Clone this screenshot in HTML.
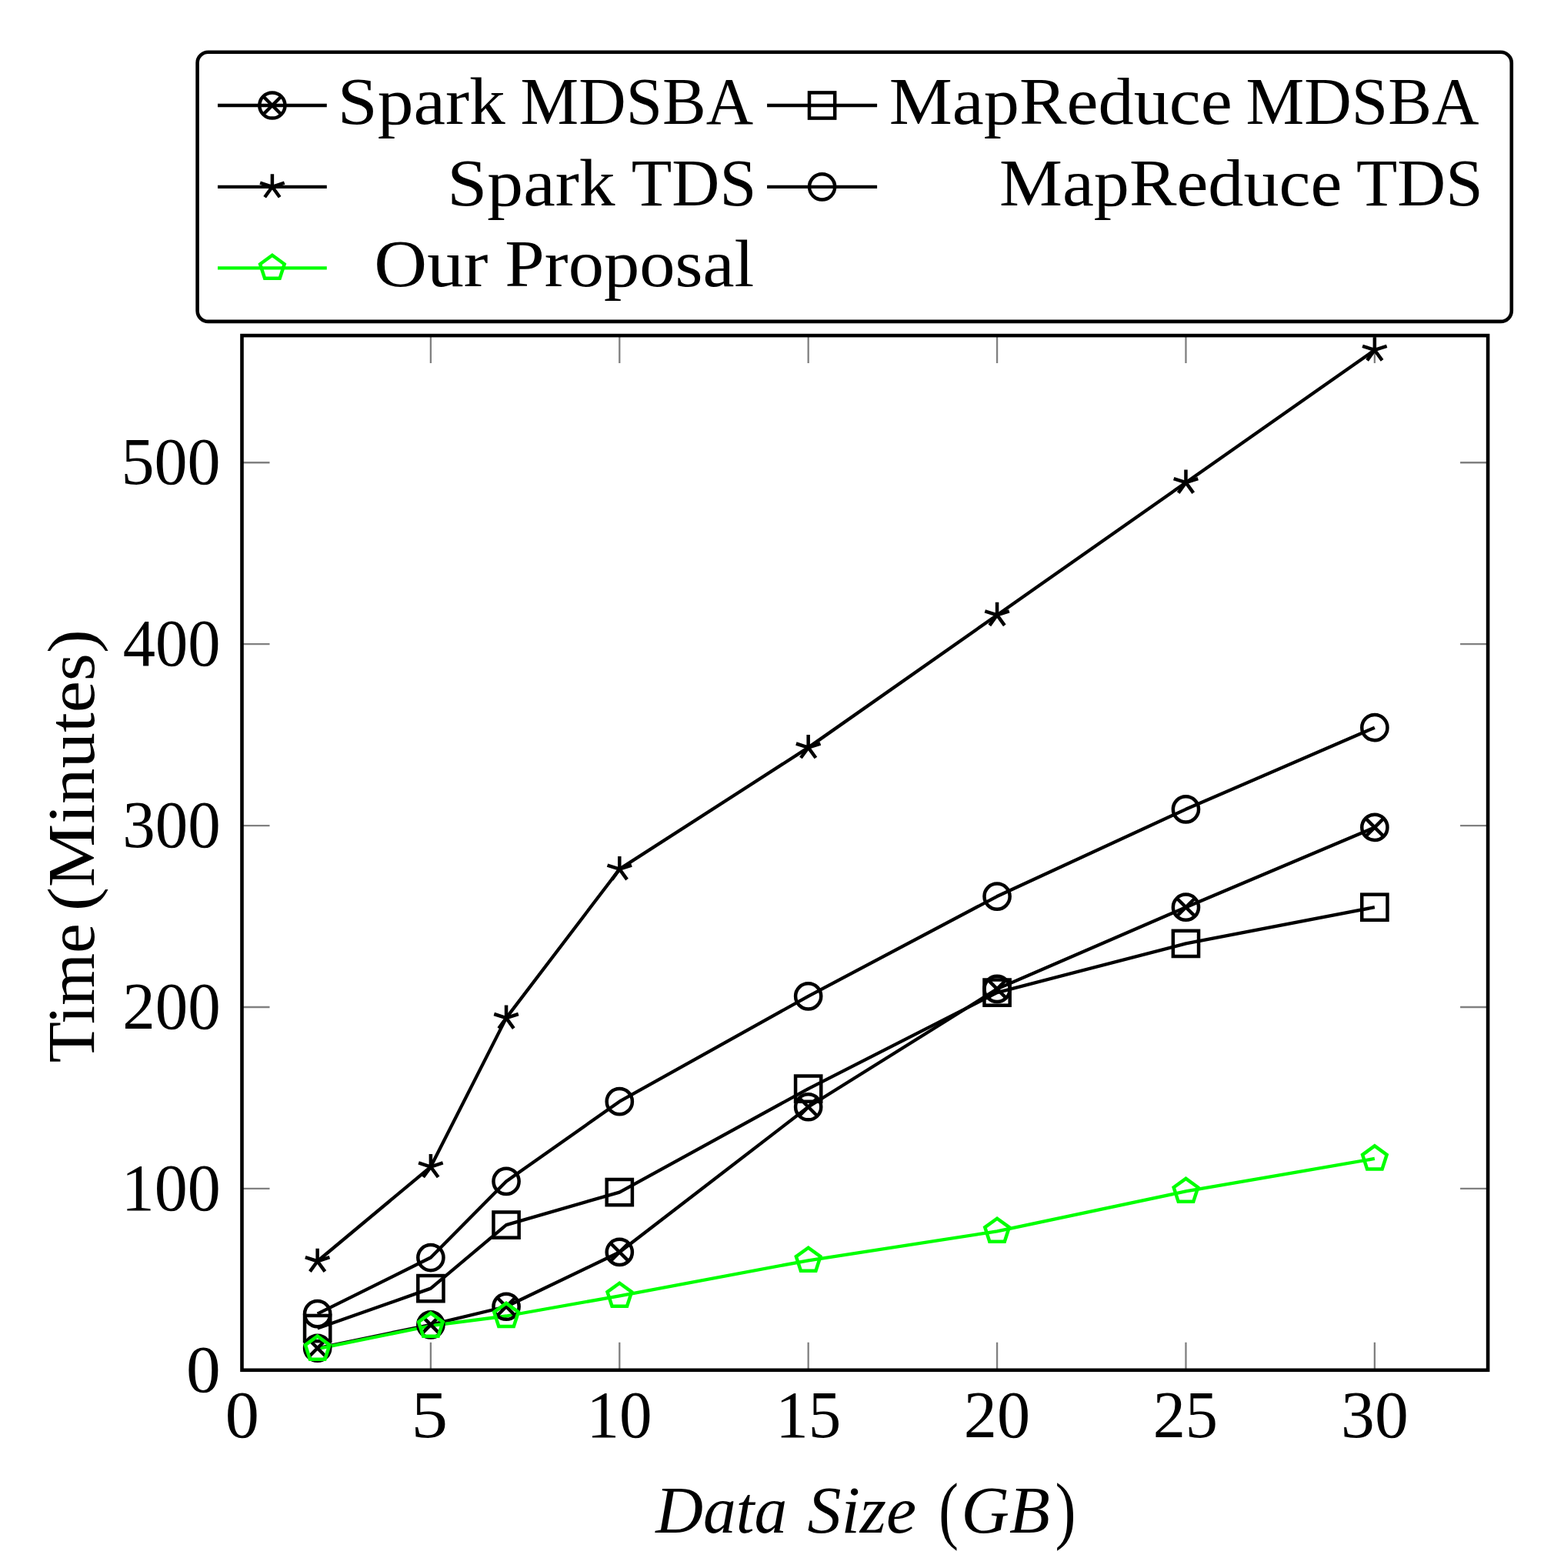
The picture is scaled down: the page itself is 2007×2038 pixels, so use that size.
<!DOCTYPE html>
<html lang="en"><head><meta charset="utf-8"><title>Time vs Data Size</title>
<style>html,body{margin:0;padding:0;background:#fff}body{width:2007px;height:2038px;overflow:hidden}svg{display:block}text{font-family:"Liberation Serif", serif;font-size:87px;fill:#000}.it{font-style:italic}</style></head><body>
<svg width="2007" height="2038" viewBox="0 0 2007 2038">
<rect width="2007" height="2038" fill="#fff"/>
<g stroke="#808080" stroke-width="2.3" fill="none">
<path d="M314.5 1780.8v-36 M314.5 436.1v36"/>
<path d="M559.89 1780.8v-36 M559.89 436.1v36"/>
<path d="M805.29 1780.8v-36 M805.29 436.1v36"/>
<path d="M1050.68 1780.8v-36 M1050.68 436.1v36"/>
<path d="M1296.08 1780.8v-36 M1296.08 436.1v36"/>
<path d="M1541.47 1780.8v-36 M1541.47 436.1v36"/>
<path d="M1786.86 1780.8v-36 M1786.86 436.1v36"/>
<path d="M314.5 1780.8h36 M1934.1 1780.8h-36"/>
<path d="M314.5 1544.89h36 M1934.1 1544.89h-36"/>
<path d="M314.5 1308.98h36 M1934.1 1308.98h-36"/>
<path d="M314.5 1073.06h36 M1934.1 1073.06h-36"/>
<path d="M314.5 837.15h36 M1934.1 837.15h-36"/>
<path d="M314.5 601.24h36 M1934.1 601.24h-36"/>
</g>
<rect x="314.5" y="436.1" width="1619.6" height="1344.7" fill="none" stroke="#000" stroke-width="4.6"/>
<polyline points="412.66,1752.25 559.89,1721.82 658.05,1698.23 805.29,1627.46 1050.68,1438.73 1296.08,1285.38 1541.47,1179.22 1786.86,1075.42" fill="none" stroke="#000" stroke-width="4.3" stroke-linejoin="round"/>
<polyline points="412.66,1726.54 559.89,1674.64 658.05,1592.07 805.29,1549.61 1050.68,1415.14 1296.08,1290.1 1541.47,1226.41 1786.86,1179.22" fill="none" stroke="#000" stroke-width="4.3" stroke-linejoin="round"/>
<polyline points="412.66,1639.25 559.89,1516.58 658.05,1323.13 805.29,1129.68 1050.68,971.62 1296.08,799.4 1541.47,627.19 1786.86,454.97" fill="none" stroke="#000" stroke-width="4.3" stroke-linejoin="round"/>
<polyline points="412.66,1707.67 559.89,1634.53 658.05,1535.45 805.29,1431.65 1050.68,1294.82 1296.08,1165.07 1541.47,1051.83 1786.86,945.67" fill="none" stroke="#000" stroke-width="4.3" stroke-linejoin="round"/>
<polyline points="412.66,1753.2 559.89,1723.24 658.05,1710.5 805.29,1684.31 1050.68,1638.31 1296.08,1600.33 1541.47,1548.43 1786.86,1505.96" fill="none" stroke="#0f0" stroke-width="4.3" stroke-linejoin="round"/>
<g>
<circle cx="412.66" cy="1752.25" r="16.6" fill="none" stroke="#000" stroke-width="4.5"/><path d="M400.92 1740.52L424.4 1763.99M400.92 1763.99L424.4 1740.52" fill="none" stroke="#000" stroke-width="4.5"/>
<circle cx="559.89" cy="1721.82" r="16.6" fill="none" stroke="#000" stroke-width="4.5"/><path d="M548.16 1710.08L571.63 1733.56M548.16 1733.56L571.63 1710.08" fill="none" stroke="#000" stroke-width="4.5"/>
<circle cx="658.05" cy="1698.23" r="16.6" fill="none" stroke="#000" stroke-width="4.5"/><path d="M646.31 1686.49L669.79 1709.97M646.31 1709.97L669.79 1686.49" fill="none" stroke="#000" stroke-width="4.5"/>
<circle cx="805.29" cy="1627.46" r="16.6" fill="none" stroke="#000" stroke-width="4.5"/><path d="M793.55 1615.72L817.03 1639.19M793.55 1639.19L817.03 1615.72" fill="none" stroke="#000" stroke-width="4.5"/>
<circle cx="1050.68" cy="1438.73" r="16.6" fill="none" stroke="#000" stroke-width="4.5"/><path d="M1038.94 1426.99L1062.42 1450.47M1038.94 1450.47L1062.42 1426.99" fill="none" stroke="#000" stroke-width="4.5"/>
<circle cx="1296.08" cy="1285.38" r="16.6" fill="none" stroke="#000" stroke-width="4.5"/><path d="M1284.34 1273.65L1307.81 1297.12M1284.34 1297.12L1307.81 1273.65" fill="none" stroke="#000" stroke-width="4.5"/>
<circle cx="1541.47" cy="1179.22" r="16.6" fill="none" stroke="#000" stroke-width="4.5"/><path d="M1529.73 1167.49L1553.21 1190.96M1529.73 1190.96L1553.21 1167.49" fill="none" stroke="#000" stroke-width="4.5"/>
<circle cx="1786.86" cy="1075.42" r="16.6" fill="none" stroke="#000" stroke-width="4.5"/><path d="M1775.13 1063.68L1798.6 1087.16M1775.13 1087.16L1798.6 1063.68" fill="none" stroke="#000" stroke-width="4.5"/>
</g>
<g>
<rect x="396.06" y="1709.94" width="33.2" height="33.2" fill="none" stroke="#000" stroke-width="4.5"/>
<rect x="543.29" y="1658.04" width="33.2" height="33.2" fill="none" stroke="#000" stroke-width="4.5"/>
<rect x="641.45" y="1575.47" width="33.2" height="33.2" fill="none" stroke="#000" stroke-width="4.5"/>
<rect x="788.69" y="1533.01" width="33.2" height="33.2" fill="none" stroke="#000" stroke-width="4.5"/>
<rect x="1034.08" y="1398.54" width="33.2" height="33.2" fill="none" stroke="#000" stroke-width="4.5"/>
<rect x="1279.48" y="1273.5" width="33.2" height="33.2" fill="none" stroke="#000" stroke-width="4.5"/>
<rect x="1524.87" y="1209.81" width="33.2" height="33.2" fill="none" stroke="#000" stroke-width="4.5"/>
<rect x="1770.26" y="1162.62" width="33.2" height="33.2" fill="none" stroke="#000" stroke-width="4.5"/>
</g>
<g>
<path d="M412.66 1639.25L412.66 1622.65M412.66 1639.25L396.87 1634.12M412.66 1639.25L402.9 1652.68M412.66 1639.25L422.41 1652.68M412.66 1639.25L428.45 1634.12" fill="none" stroke="#000" stroke-width="4.5"/>
<path d="M559.89 1516.58L559.89 1499.98M559.89 1516.58L544.11 1511.45M559.89 1516.58L550.14 1530.01M559.89 1516.58L569.65 1530.01M559.89 1516.58L575.68 1511.45" fill="none" stroke="#000" stroke-width="4.5"/>
<path d="M658.05 1323.13L658.05 1306.53M658.05 1323.13L642.26 1318M658.05 1323.13L648.29 1336.56M658.05 1323.13L667.81 1336.56M658.05 1323.13L673.84 1318" fill="none" stroke="#000" stroke-width="4.5"/>
<path d="M805.29 1129.68L805.29 1113.08M805.29 1129.68L789.5 1124.55M805.29 1129.68L795.53 1143.11M805.29 1129.68L815.05 1143.11M805.29 1129.68L821.08 1124.55" fill="none" stroke="#000" stroke-width="4.5"/>
<path d="M1050.68 971.62L1050.68 955.02M1050.68 971.62L1034.89 966.49M1050.68 971.62L1040.92 985.05M1050.68 971.62L1060.44 985.05M1050.68 971.62L1066.47 966.49" fill="none" stroke="#000" stroke-width="4.5"/>
<path d="M1296.08 799.4L1296.08 782.8M1296.08 799.4L1280.29 794.28M1296.08 799.4L1286.32 812.83M1296.08 799.4L1305.83 812.83M1296.08 799.4L1311.86 794.28" fill="none" stroke="#000" stroke-width="4.5"/>
<path d="M1541.47 627.19L1541.47 610.59M1541.47 627.19L1525.68 622.06M1541.47 627.19L1531.71 640.62M1541.47 627.19L1551.23 640.62M1541.47 627.19L1557.26 622.06" fill="none" stroke="#000" stroke-width="4.5"/>
<path d="M1786.86 454.97L1786.86 438.37M1786.86 454.97L1771.08 449.84M1786.86 454.97L1777.11 468.4M1786.86 454.97L1796.62 468.4M1786.86 454.97L1802.65 449.84" fill="none" stroke="#000" stroke-width="4.5"/>
</g>
<g>
<circle cx="412.66" cy="1707.67" r="16.6" fill="none" stroke="#000" stroke-width="4.5"/>
<circle cx="559.89" cy="1634.53" r="16.6" fill="none" stroke="#000" stroke-width="4.5"/>
<circle cx="658.05" cy="1535.45" r="16.6" fill="none" stroke="#000" stroke-width="4.5"/>
<circle cx="805.29" cy="1431.65" r="16.6" fill="none" stroke="#000" stroke-width="4.5"/>
<circle cx="1050.68" cy="1294.82" r="16.6" fill="none" stroke="#000" stroke-width="4.5"/>
<circle cx="1296.08" cy="1165.07" r="16.6" fill="none" stroke="#000" stroke-width="4.5"/>
<circle cx="1541.47" cy="1051.83" r="16.6" fill="none" stroke="#000" stroke-width="4.5"/>
<circle cx="1786.86" cy="945.67" r="16.6" fill="none" stroke="#000" stroke-width="4.5"/>
</g>
<g>
<polygon points="412.66,1736.6 396.87,1748.07 402.9,1766.63 422.41,1766.63 428.45,1748.07" fill="none" stroke="#0f0" stroke-width="4.5" stroke-linejoin="miter"/>
<polygon points="559.89,1706.64 544.11,1718.11 550.14,1736.67 569.65,1736.67 575.68,1718.11" fill="none" stroke="#0f0" stroke-width="4.5" stroke-linejoin="miter"/>
<polygon points="658.05,1693.9 642.26,1705.37 648.29,1723.93 667.81,1723.93 673.84,1705.37" fill="none" stroke="#0f0" stroke-width="4.5" stroke-linejoin="miter"/>
<polygon points="805.29,1667.71 789.5,1679.18 795.53,1697.74 815.05,1697.74 821.08,1679.18" fill="none" stroke="#0f0" stroke-width="4.5" stroke-linejoin="miter"/>
<polygon points="1050.68,1621.71 1034.89,1633.18 1040.92,1651.74 1060.44,1651.74 1066.47,1633.18" fill="none" stroke="#0f0" stroke-width="4.5" stroke-linejoin="miter"/>
<polygon points="1296.08,1583.73 1280.29,1595.2 1286.32,1613.76 1305.83,1613.76 1311.86,1595.2" fill="none" stroke="#0f0" stroke-width="4.5" stroke-linejoin="miter"/>
<polygon points="1541.47,1531.83 1525.68,1543.3 1531.71,1561.86 1551.23,1561.86 1557.26,1543.3" fill="none" stroke="#0f0" stroke-width="4.5" stroke-linejoin="miter"/>
<polygon points="1786.86,1489.36 1771.08,1500.83 1777.11,1519.39 1796.62,1519.39 1802.65,1500.83" fill="none" stroke="#0f0" stroke-width="4.5" stroke-linejoin="miter"/>
</g>
<rect x="256.6" y="67.7" width="1708.2" height="350.2" rx="14" ry="14" fill="#fff" stroke="#000" stroke-width="4.6"/>
<path d="M283 137H424.8" stroke="#000" stroke-width="4.3" fill="none"/>
<circle cx="353.9" cy="137" r="16.6" fill="none" stroke="#000" stroke-width="4.5"/><path d="M342.16 125.26L365.64 148.74M342.16 148.74L365.64 125.26" fill="none" stroke="#000" stroke-width="4.5"/>
<path d="M997.1 137H1140.1" stroke="#000" stroke-width="4.3" fill="none"/>
<rect x="1052" y="120.4" width="33.2" height="33.2" fill="none" stroke="#000" stroke-width="4.5"/>
<path d="M283 242.8H424.8" stroke="#000" stroke-width="4.3" fill="none"/>
<path d="M353.9 242.8L353.9 226.2M353.9 242.8L338.11 237.67M353.9 242.8L344.14 256.23M353.9 242.8L363.66 256.23M353.9 242.8L369.69 237.67" fill="none" stroke="#000" stroke-width="4.5"/>
<path d="M997.1 242.8H1140.1" stroke="#000" stroke-width="4.3" fill="none"/>
<circle cx="1068.6" cy="242.8" r="16.6" fill="none" stroke="#000" stroke-width="4.5"/>
<path d="M283 348.4H424.8" stroke="#0f0" stroke-width="4.3" fill="none"/>
<polygon points="353.9,331.8 338.11,343.27 344.14,361.83 363.66,361.83 369.69,343.27" fill="none" stroke="#0f0" stroke-width="4.5" stroke-linejoin="miter"/>
<text y="161"><tspan x="438.74" textLength="218.06" lengthAdjust="spacingAndGlyphs">Spark</tspan> <tspan x="676.6" textLength="302.6" lengthAdjust="spacingAndGlyphs">MDSBA</tspan></text>
<text y="161"><tspan x="1155.79" textLength="446.03" lengthAdjust="spacingAndGlyphs">MapReduce</tspan> <tspan x="1619.41" textLength="303.19" lengthAdjust="spacingAndGlyphs">MDSBA</tspan></text>
<text y="267"><tspan x="581.35" textLength="218.26" lengthAdjust="spacingAndGlyphs">Spark</tspan> <tspan x="820.77" textLength="162.51" lengthAdjust="spacingAndGlyphs">TDS</tspan></text>
<text y="267"><tspan x="1298.99" textLength="445.43" lengthAdjust="spacingAndGlyphs">MapReduce</tspan> <tspan x="1762.95" textLength="164.76" lengthAdjust="spacingAndGlyphs">TDS</tspan></text>
<text y="372"><tspan x="486.38" textLength="148.23" lengthAdjust="spacingAndGlyphs">Our</tspan> <tspan x="656.39" textLength="323.81" lengthAdjust="spacingAndGlyphs">Proposal</tspan></text>
<text y="1809"><tspan x="242.13" textLength="44.74" lengthAdjust="spacingAndGlyphs">0</tspan></text>
<text y="1573"><tspan x="157.74" textLength="129.06" lengthAdjust="spacingAndGlyphs">100</tspan></text>
<text y="1337"><tspan x="159.29" textLength="127.39" lengthAdjust="spacingAndGlyphs">200</tspan></text>
<text y="1101"><tspan x="159.29" textLength="127.39" lengthAdjust="spacingAndGlyphs">300</tspan></text>
<text y="865"><tspan x="159.78" textLength="126.84" lengthAdjust="spacingAndGlyphs">400</tspan></text>
<text y="629"><tspan x="157.43" textLength="129.27" lengthAdjust="spacingAndGlyphs">500</tspan></text>
<text y="1868"><tspan x="292.83" textLength="44.13" lengthAdjust="spacingAndGlyphs">0</tspan></text>
<text y="1868"><tspan x="534.56" textLength="47.63" lengthAdjust="spacingAndGlyphs">5</tspan></text>
<text y="1868"><tspan x="762.43" textLength="85.23" lengthAdjust="spacingAndGlyphs">10</tspan></text>
<text y="1868"><tspan x="1008.2" textLength="85.12" lengthAdjust="spacingAndGlyphs">15</tspan></text>
<text y="1868"><tspan x="1252.86" textLength="86.28" lengthAdjust="spacingAndGlyphs">20</tspan></text>
<text y="1868"><tspan x="1498.67" textLength="84.43" lengthAdjust="spacingAndGlyphs">25</tspan></text>
<text y="1868"><tspan x="1743.02" textLength="87.72" lengthAdjust="spacingAndGlyphs">30</tspan></text>
<text y="1992" class="it"><tspan x="852.18" textLength="170.98" lengthAdjust="spacingAndGlyphs">Data</tspan> <tspan x="1049.4" textLength="141.79" lengthAdjust="spacingAndGlyphs">Size</tspan> <tspan x="1220.18" y="1994.8" font-size="97.6" font-style="normal" textLength="25.72" lengthAdjust="spacingAndGlyphs">(</tspan><tspan x="1249.5" y="1992" textLength="115.35" lengthAdjust="spacingAndGlyphs">GB</tspan><tspan x="1371.4" y="1994.8" font-size="97.6" font-style="normal" textLength="27.12" lengthAdjust="spacingAndGlyphs">)</tspan></text>
<text transform="translate(121.5 1379.2) rotate(-90)" y="0"><tspan x="-2.01" textLength="180.83" lengthAdjust="spacingAndGlyphs">Time</tspan> <tspan x="195.14" textLength="365.93" lengthAdjust="spacingAndGlyphs">(Minutes)</tspan></text>
</svg></body></html>
